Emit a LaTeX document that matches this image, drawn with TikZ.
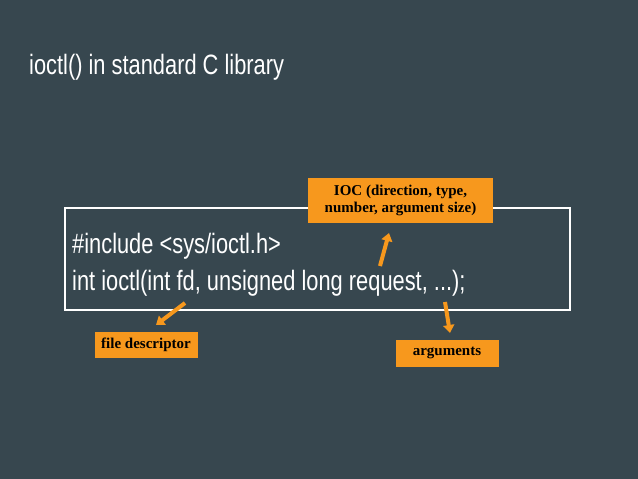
\documentclass[tikz,border=0pt]{standalone}
\usepackage{fontspec}
\usetikzlibrary{arrows.meta}
\newfontfamily\cond[FakeStretch=0.78]{Liberation Sans}
\newfontfamily\lbl{Liberation Serif}
\definecolor{bg}{HTML}{37474F}
\definecolor{org}{HTML}{F7981D}
\begin{document}
\begin{tikzpicture}[x=1pt,y=-1pt,
  lab/.style={fill=org,font=\lbl\bfseries\fontsize{15}{17}\selectfont,text=black,align=center,inner sep=0},
  arr/.style={draw=org,line width=4pt,-{Triangle[length=8pt,width=11pt]}},
  code/.style={text=white,font=\cond\fontsize{28}{37}\selectfont,anchor=base west,inner sep=0}]
\useasboundingbox[fill=bg] (0,0) rectangle (638,479);
\node[text=white,font=\cond\fontsize{28}{30}\selectfont,anchor=base west,inner sep=0] (title) at (29,74) {ioctl() in standard C library};
\draw[white,line width=1.2pt] (65,208) rectangle (570,310);
\node[code] (l1) at (72,253) {\#include <sys/ioctl.h>};
\node[code] (l2) at (72,290) {int ioctl(int fd, unsigned long request, ...);};
\node[lab,minimum width=185pt,minimum height=45pt] (ioc) at (400.5,200) {IOC (direction, type,\\number, argument size)};
\node[lab,minimum width=103pt,minimum height=26pt] (fdl) at (146,345) {file descriptor};
\node[lab,minimum width=103pt,minimum height=27pt] (argl) at (447,353) {arguments};
\coordinate (a1) at (380,266); \coordinate (a1h) at (389,233);
\coordinate (a2) at (185,303); \coordinate (a2h) at (156,325);
\coordinate (a3) at (445,302); \coordinate (a3h) at (450,333);
\draw[arr] (a1) -- (a1h);
\draw[arr] (a2) -- (a2h);
\draw[arr] (a3) -- (a3h);
\end{tikzpicture}
\end{document}
